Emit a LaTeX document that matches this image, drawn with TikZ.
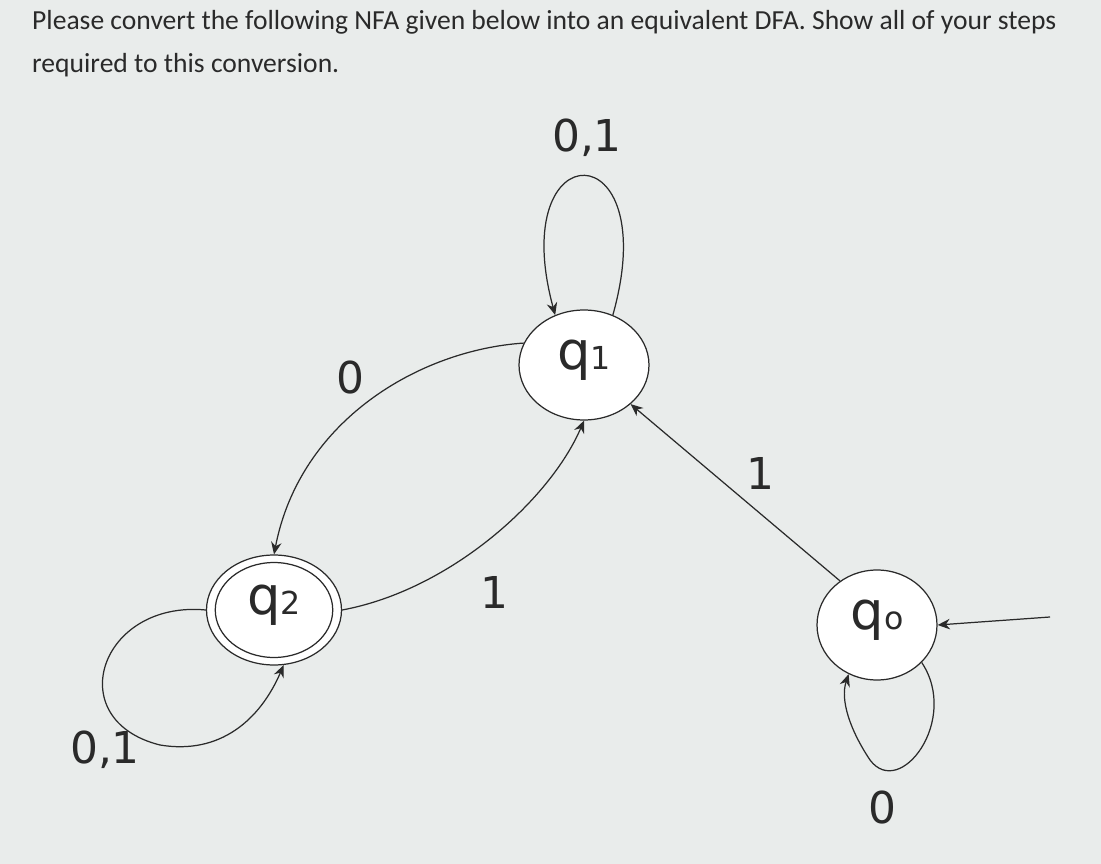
\documentclass[tikz,border=0pt]{standalone}
\usepackage{fontspec}
\setmainfont{Carlito}
\newfontfamily\lblfont{DejaVu Sans}
\usetikzlibrary{shapes.geometric,arrows.meta}
\definecolor{bg}{HTML}{E9ECEB}
\definecolor{ink}{HTML}{2A2A2A}
\begin{document}
\begin{tikzpicture}[x=0.02cm,y=-0.02cm,
  st/.style={draw=ink,line width=0.7pt,ellipse,fill=white,inner sep=0pt},
  edge/.style={draw=ink,line width=0.7pt,-{Stealth[length=7pt,width=6pt]}},
  lbl/.style={font=\lblfont\fontsize{25}{29}\selectfont,text=ink},
  sname/.style={font=\lblfont\fontsize{30}{34}\selectfont,text=ink}]
\fill[bg] (0,0) rectangle (1101,864);
\useasboundingbox (0,0) rectangle (1101,864);
\node[anchor=west,font=\fontsize{15.7}{19}\selectfont,text=ink] (t1) at (26,22) {Please convert the following NFA given below into an equivalent DFA. Show all of your steps};
\node[anchor=west,font=\fontsize{15.7}{19}\selectfont,text=ink] (t2) at (26,65) {required to this conversion.};
\node[st,minimum width=2.6cm,minimum height=2.2cm] (q1) at (584,365) {};
\node[sname] (n1) at (584,360) {q\fontsize{18}{20}\selectfont 1};
\node[st,minimum width=2.7cm,minimum height=2.2cm] (q2) at (274,610) {};
\node[draw=ink,line width=0.7pt,ellipse,minimum width=2.35cm,minimum height=1.9cm] (q2i) at (274,610) {};
\node[sname] (n2) at (274,605) {q\fontsize{18}{20}\selectfont 2};
\node[st,minimum width=2.4cm,minimum height=2.2cm] (q0) at (877,625) {};
\node[sname] (n0) at (877,620) {q\fontsize{18}{20}\selectfont o};
\coordinate (s) at (1050,617);
\draw[edge] (q1.60) .. controls (665,130) and (505,130) .. (q1.120);
\draw[edge] (q1.160) .. controls (420,350) and (300,420) .. (q2.north);
\draw[edge] (q2.east) .. controls (450,590) and (550,500) .. (q1.south);
\draw[edge] (q0.130) -- (q1.-40);
\draw[edge] (q2.west) .. controls (100,600) and (60,720) .. (160,745) .. controls (220,755) and (260,720) .. (q2.-80);
\draw[edge] (q0.-40) .. controls (960,720) and (900,800) .. (870,760) .. controls (850,730) and (840,700) .. (q0.-120);
\draw[edge] (s) -- (q0.east);
\node[lbl] (l1) at (587,138) {0,1};
\node[lbl] (l2) at (350,378) {0};
\node[lbl] (l3) at (760,473) {1};
\node[lbl] (l4) at (494,592) {1};
\node[lbl] (l5) at (105,750) {0,1};
\node[lbl] (l6) at (882,808) {0};
\end{tikzpicture}
\end{document}
